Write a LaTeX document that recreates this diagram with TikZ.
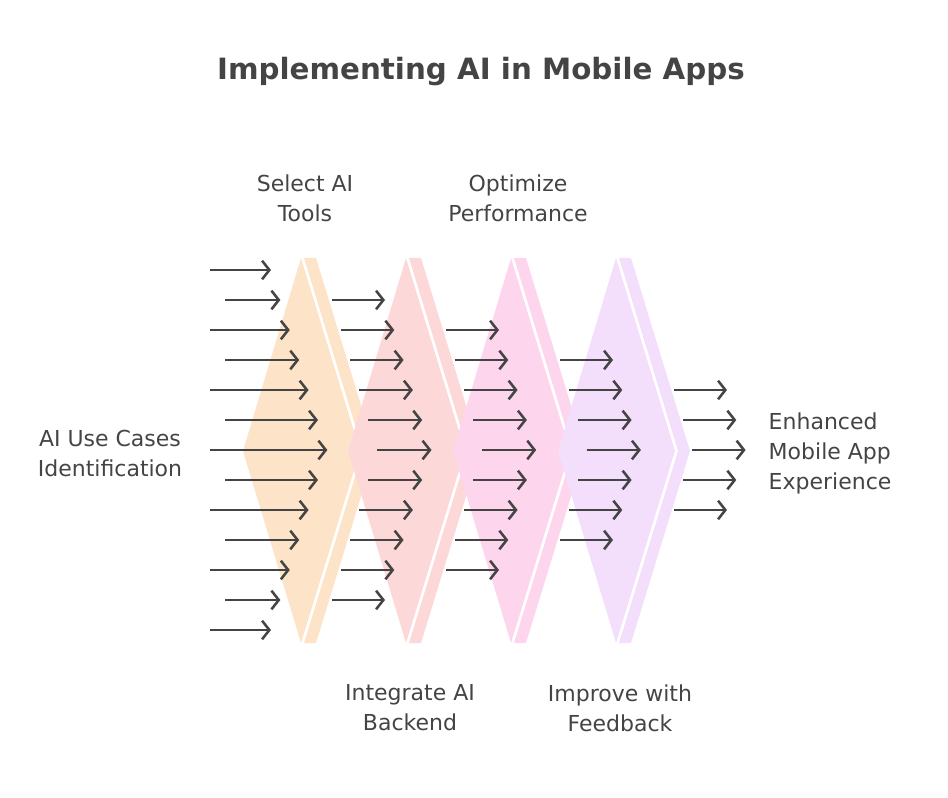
\documentclass[tikz,border=0pt]{standalone}
\usepackage{fontspec}
\setmainfont{DejaVu Sans}
\usetikzlibrary{arrows.meta}
\definecolor{ink}{HTML}{444444}
\begin{document}
\begin{tikzpicture}[x=0.75pt,y=-0.75pt,
  arr/.style={draw=ink,line width=1.9pt,-{Straight Barb[length=5.5pt,width=14pt,line width=1.9pt]}},
  lbl/.style={text=ink,font=\fontsize{16.5}{22.5}\selectfont,align=center}]
\useasboundingbox (0,0) rectangle (948,798);
\foreach \t/\c in {301/FDE3C8,406/FDD8D8,511/FDD6EE,616/F3DEFB}{
  \definecolor{fc}{HTML}{\c}
  \fill[fc] (\t,258) -- (\t-58,451) -- (\t,643) -- (\t+59,451) -- cycle;
  \fill[fc] (\t+3,258) -- (\t+15,258) -- (\t+74,451) -- (\t+15,643) -- (\t+3,643) -- (\t+62,451) -- cycle;
}
% column 1
\foreach \i in {0,...,12}{
  \pgfmathsetmacro\k{6-abs(\i-6)}
  \pgfmathsetmacro\sx{mod(\i,2)==0 ? 210 : 225}
  \pgfmathsetmacro\ex{271+9.4*\k}
  \draw[arr] (\sx,270+30*\i) -- (\ex,270+30*\i);
}
% columns 2-5
\foreach \n/\yy/\sb/\eb in {5/300/332/385,4/330/446/499,3/360/560/613,2/390/674/727}{
  \pgfmathtruncatemacro\m{2*\n}
  \foreach \i in {0,...,\m}{
    \pgfmathsetmacro\k{\n-abs(\i-\n)}
    \draw[arr] (\sb+9*\k,\yy+30*\i) -- (\eb+9.3*\k,\yy+30*\i);
  }
}
\node[text=ink,font=\fontsize{22}{25}\selectfont\bfseries] (title) at (481,72) {Implementing AI in Mobile Apps};
\node[lbl] (s1) at (305,198) {Select AI\\Tools};
\node[lbl] (s3) at (518,198) {Optimize\\Performance};
\node[lbl] (s2) at (410,708) {Integrate AI\\Backend};
\node[lbl] (s4) at (620,708) {Improve with\\Feedback};
\node[lbl] (in) at (110,453) {AI Use Cases\\Identification};
\node[lbl,align=left,anchor=west] (out) at (764,453) {Enhanced\\Mobile App\\Experience};
\end{tikzpicture}
\end{document}
